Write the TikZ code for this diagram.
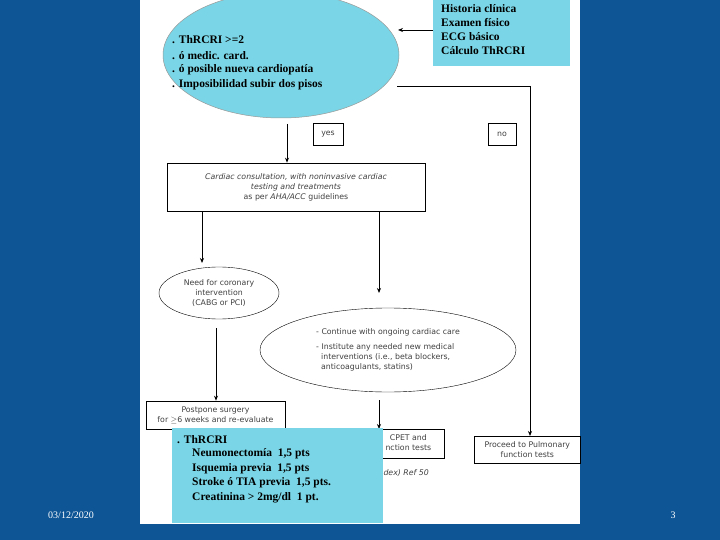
\documentclass[tikz,border=0pt]{standalone}
\usepackage{fontspec}
\setmainfont{Liberation Serif}
\newfontfamily\eng{DejaVu Sans}
\usetikzlibrary{arrows.meta,shapes.geometric}
\definecolor{slideblue}{HTML}{0E5596}
\definecolor{cyanbox}{HTML}{7AD6E6}
\begin{document}
\begin{tikzpicture}[x=1pt,y=-1pt,
  arr/.style={-{Stealth[length=5pt,width=4pt]},line width=0.8pt},
  ln/.style={line width=0.8pt},
  sp/.style={font=\bfseries\fontsize{11.5}{13.5}\selectfont,align=left,inner sep=0pt,anchor=west},
  en/.style={font=\eng\fontsize{7.8}{10}\selectfont,text=black!75,align=center},
  ebox/.style={draw,line width=0.6pt,en}]
\useasboundingbox (0,0) rectangle (720,540);
\fill[slideblue] (0,0) rectangle (720,540);
\fill[white] (140,0) rectangle (580,524);
% top ellipse
\fill[cyanbox,draw=black!40,line width=0.5pt] (281,55) ellipse [x radius=118,y radius=63];
\node[sp] (t1) at (172,40) {. ThRCRI >=2};
\node[sp] (t2) at (172,56) {. ó medic. card.};
\node[sp] (t3) at (172,70) {. ó posible nueva cardiopatía};
\node[sp] (t4) at (172,85) {. Imposibilidad subir dos pisos};
\coordinate (ellR) at (398,30);
\coordinate (ellB) at (397,86);
% right cyan box
\node[fill=cyanbox,minimum width=137pt,minimum height=66pt,inner sep=0pt,anchor=north west] (hist) at (433,0) {};
\node[sp,font=\bfseries\fontsize{11.5}{14.2}\selectfont,anchor=north west] (histt) at (441,4) {Historia clínica\\Examen físico\\ECG básico\\Cálculo ThRCRI};
\draw[arr] (hist.west |- 0,30) -- (ellR);
% no path
\coordinate (c1) at (530,86);
\draw[ln] (ellB) -- (c1);
% yes/no
\node[ebox,minimum width=30pt,minimum height=22pt,inner sep=0pt] (yes) at (328,134) {yes};
\node[ebox,minimum width=28pt,minimum height=22pt,inner sep=0pt] (no) at (502,134) {no};
% cardiac box
\node[ebox,minimum width=258pt,minimum height=48pt,inner sep=1pt] (card) at (296,187) {\textit{Cardiac consultation, with noninvasive cardiac}\\\textit{testing and treatments}\\as per \textit{AHA/ACC} guidelines};
\coordinate (a0) at (287,124);
\draw[arr] (a0) -- (card.north -| a0);
% coronary ellipse
\node[draw,ellipse,en,minimum width=120pt,minimum height=52pt,inner sep=0pt] (need) at (219,293) {Need for coronary\\intervention\\(CABG or PCI)};
\draw[arr] (card.south -| 202,0) -- (202,263);
% big ellipse
\node[draw,ellipse,en,align=left,minimum width=256pt,minimum height=84pt,inner sep=0pt] (care) at (388,350) {- Continue with ongoing cardiac care\\[5pt]- Institute any needed new medical\\\ \ interventions (i.e., beta blockers,\\\ \ anticoagulants, statins)};
\draw[arr] (card.south -| 379,0) -- (379,293);
% postpone
\node[ebox,minimum width=139pt,minimum height=28pt,inner sep=0pt] (post) at (215.5,415) {Postpone surgery\\for $\geq$6 weeks and re-evaluate};
\draw[arr] (216,328) -- (post.north -| 216,0);
% CPET box
\node[draw,line width=0.6pt,minimum width=150pt,minimum height=29pt,inner sep=0pt,anchor=north east] (cpet) at (445,429) {};
\node[en,anchor=west] (cpett) at (382,443) {CPET and\\nction tests};
\draw[arr] (379,400) -- (cpet.north -| 379,0);
\node[en,anchor=west,font=\eng\itshape\fontsize{7.8}{10}\selectfont] (ref) at (380,473) {dex) Ref 50};
% pulmonary
\node[ebox,minimum width=106pt,minimum height=27pt,inner sep=0pt,anchor=north west] (pulm) at (474,436) {Proceed to Pulmonary\\function tests};
\draw[ln] (c1) -- (530,423);
\draw[arr] (530,420) -- (pulm.north -| 530,0);
% bottom cyan box
\node[fill=cyanbox,minimum width=211pt,minimum height=95pt,inner sep=0pt,anchor=north west] (rcri) at (172,428) {};
\node[sp] (r0) at (177,440) {. ThRCRI};
\node[sp] (r1) at (192,454) {Neumonectomía\ \ 1,5 pts};
\node[sp] (r2) at (192,469) {Isquemia previa\ \ 1,5 pts};
\node[sp] (r3) at (192,483) {Stroke ó TIA previa\ \ 1,5 pts.};
\node[sp] (r4) at (192,498) {Creatinina > 2mg/dl\ \ 1 pt.};
% footer
\node[text=white,font=\fontsize{10}{12}\selectfont] (date) at (71,515) {03/12/2020};
\node[text=white,font=\fontsize{10}{12}\selectfont] (pg) at (673,515) {3};
\end{tikzpicture}
\end{document}
